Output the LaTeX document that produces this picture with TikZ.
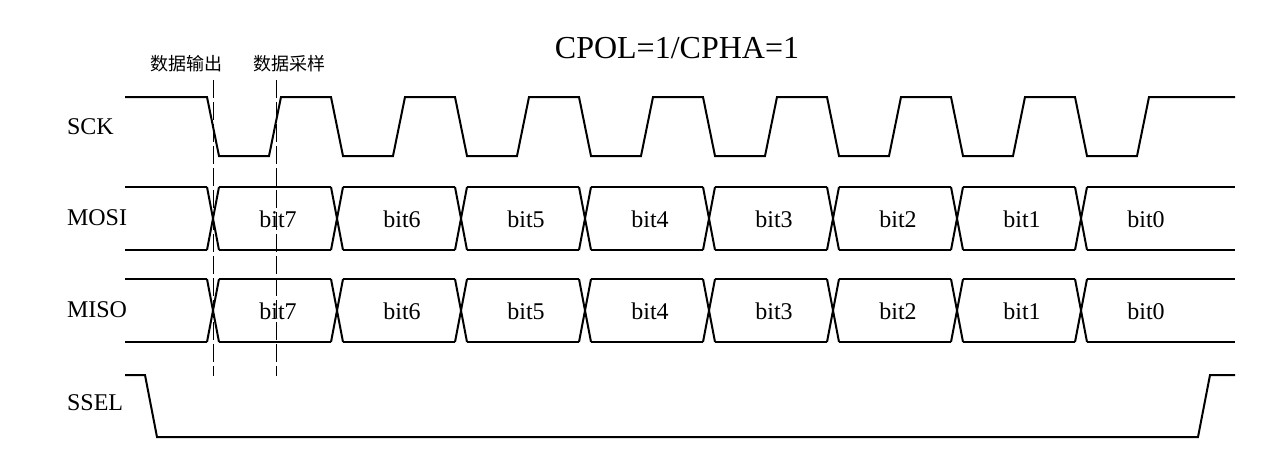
\documentclass[tikz,border=0pt]{standalone}
\usepackage{fontspec}
\setmainfont{Liberation Serif}
\newfontfamily\cjk{Noto Sans CJK SC}
\begin{document}
\begin{tikzpicture}[x=0.5pt,y=-0.5pt,
  sig/.style={line width=1pt,line join=miter},
  lbl/.style={font=\fontsize{12}{13}\selectfont,anchor=west},
  bitlbl/.style={font=\fontsize{12}{13}\selectfont},
  guide/.style={line width=0.5pt,dash pattern=on 9pt off 2pt}]
\useasboundingbox (0,0) rectangle (1268,467);
% SCK
\draw[sig] (125,97) \foreach \k in {0,...,7}{ -- ({207+124*\k},97) -- ({219+124*\k},156) -- ({269+124*\k},156) -- ({281+124*\k},97)} -- (1235,97);
% MOSI / MISO
\foreach \t/\b in {187/250,279/342}{
  \draw[sig] (125,\t) -- (207,\t) (125,\b) -- (207,\b);
  \foreach \k in {0,...,7}{
    \draw[sig] ({207+124*\k},\t) -- ({219+124*\k},\b) ({207+124*\k},\b) -- ({219+124*\k},\t);
  }
  \foreach \k in {0,...,6}{
    \draw[sig] ({219+124*\k},\t) -- ({331+124*\k},\t) ({219+124*\k},\b) -- ({331+124*\k},\b);
  }
  \draw[sig] (1087,\t) -- (1235,\t) (1087,\b) -- (1235,\b);
}
\foreach \k/\n in {0/7,1/6,2/5,3/4,4/3,5/2,6/1,7/0}{
  \node[bitlbl] (mo\n) at ({278+124*\k},219) {bit\n};
  \node[bitlbl] (mi\n) at ({278+124*\k},311) {bit\n};
}
% SSEL
\draw[sig] (125,375) -- (145,375) -- (157,437) -- (1198,437) -- (1210,375) -- (1235,375);
% labels
\node[lbl] (sck) at (60,127) {SCK};
\node[lbl] (mosi) at (60,218) {MOSI};
\node[lbl] (miso) at (60,310) {MISO};
\node[lbl] (ssel) at (60,403) {SSEL};
\node[font=\fontsize{16}{18}\selectfont] (title) at (677,48) {CPOL=1/CPHA=1};
\node[font=\cjk\fontsize{9}{10}\selectfont] (out) at (186,64) {数据输出};
\node[font=\cjk\fontsize{9}{10}\selectfont] (smp) at (289,64) {数据采样};
\draw[guide] (213,80) -- (213,376);
\draw[guide] (276,80) -- (276,376);
\end{tikzpicture}
\end{document}
